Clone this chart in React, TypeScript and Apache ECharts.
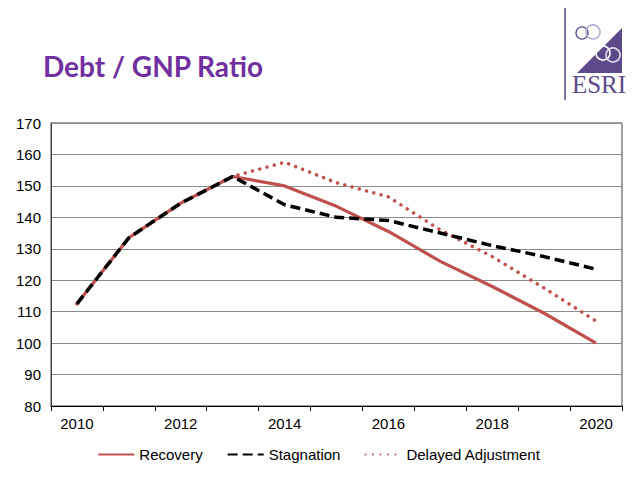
import React, { useEffect, useRef } from "react";
import * as echarts from "echarts";

const years = ["2010", "2011", "2012", "2013", "2014", "2015", "2016", "2017", "2018", "2019", "2020"];
const recovery = [112.5, 133.5, 144.5, 153, 150, 143.5, 135.5, 126, 118, 109.5, 100];
const stagnation = [112.5, 133.5, 144.5, 153, 144, 140, 139, 135, 131, 127.5, 123.5];
const delayed = [112.5, 133.5, 144.5, 153, 157.5, 151, 146.5, 136, 127.5, 117.5, 107];
const seriesNames = ["Recovery", "Stagnation", "Delayed Adjustment"];
const titleText = "Debt / GNP Ratio";
const logoText = "ESRI";

export default function App() {
  const ref = useRef<HTMLDivElement>(null);
  useEffect(() => {
    document.body.style.margin = "0";
    const chart = echarts.init(ref.current!, null, { renderer: "svg" });
    const red = "#C0504D";
    const purple = "#5E4A8B";
    chart.setOption({
      animation: false,
      backgroundColor: "#ffffff",
      title: {
        text: titleText,
        left: 38,
        top: 47,
        textStyle: { fontFamily: "Lato", fontWeight: "bold", fontSize: 28, color: "#7030A0" },
      },
      graphic: [
        { type: "line", shape: { x1: 565, y1: 8, x2: 565, y2: 100 }, style: { stroke: purple, lineWidth: 1.5 } },
        { type: "polygon", shape: { points: [[577, 73], [622, 28], [622, 73]] }, style: { fill: purple } },
        { type: "circle", shape: { cx: 582, cy: 33, r: 6 }, style: { fill: "none", stroke: purple, lineWidth: 1.3 } },
        { type: "circle", shape: { cx: 593, cy: 32, r: 7 }, style: { fill: "none", stroke: "#B8AED0", lineWidth: 1.6 } },
        { type: "circle", shape: { cx: 603, cy: 53, r: 7 }, style: { fill: "none", stroke: "#ffffff", lineWidth: 1.6 } },
        { type: "circle", shape: { cx: 613, cy: 55, r: 7 }, style: { fill: "none", stroke: "#E0DAEC", lineWidth: 1.6 } },
        {
          type: "text",
          x: 599,
          y: 84,
          style: {
            text: logoText,
            fontFamily: "Liberation Serif",
            fontSize: 25,
            fill: purple,
            align: "center",
            verticalAlign: "middle",
          },
        },
      ],
      grid: {
        left: 51,
        right: 16,
        top: 123,
        bottom: 72,
        show: true,
        borderColor: "#404040",
        borderWidth: 1,
      },
      legend: {
        bottom: 11,
        left: "center",
        itemWidth: 36,
        itemHeight: 10,
        itemGap: 24,
        itemStyle: { opacity: 0 },
        textStyle: { fontFamily: "Liberation Sans", fontSize: 15, color: "#000" },
        data: seriesNames,
      },
      xAxis: {
        type: "category",
        data: years,
        boundaryGap: true,
        axisLine: { lineStyle: { color: "#000", width: 1 } },
        axisTick: { show: true, interval: 0, length: 5, lineStyle: { color: "#000" } },
        axisLabel: { interval: 1, fontFamily: "Liberation Sans", fontSize: 15, color: "#000", margin: 10 },
        splitLine: { show: false },
      },
      yAxis: {
        type: "value",
        min: 80,
        max: 170,
        interval: 10,
        axisLine: { show: true, lineStyle: { color: "#404040" } },
        axisTick: { show: false },
        axisLabel: { fontFamily: "Liberation Sans", fontSize: 15, color: "#000", margin: 10 },
        splitLine: { lineStyle: { color: "#8C8C8C", width: 1 } },
      },
      series: [
        {
          name: seriesNames[0],
          type: "line",
          data: recovery,
          symbol: "none",
          z: 3,
          lineStyle: { color: red, width: 3.2 },
          itemStyle: { color: red },
        },
        {
          name: seriesNames[1],
          type: "line",
          data: stagnation,
          symbol: "none",
          z: 4,
          lineStyle: { color: "#000", width: 3.5, type: [10, 5] },
          itemStyle: { color: "#000" },
        },
        {
          name: seriesNames[2],
          type: "line",
          data: delayed,
          symbol: "none",
          z: 2,
          lineStyle: { color: red, width: 3.5, type: [0.01, 7.5], cap: "round" },
          itemStyle: { color: red },
        },
      ],
    });
    return () => chart.dispose();
  }, []);
  return <div ref={ref} style={{ width: 638, height: 478 }} />;
}
